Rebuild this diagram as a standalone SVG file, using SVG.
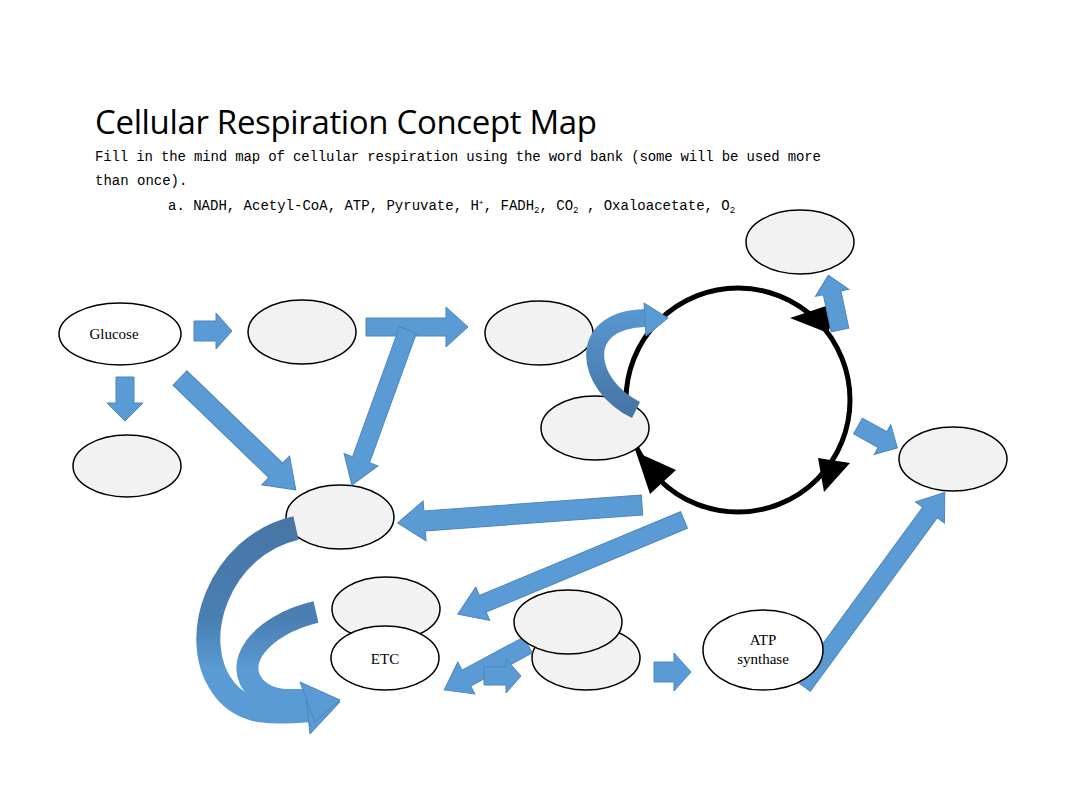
<svg xmlns="http://www.w3.org/2000/svg" width="1082" height="803" viewBox="0 0 1082 803">
<style>
.o{stroke:#000;stroke-width:1.5;fill:#f2f2f2}
.w{fill:#fff}
.a{fill:#5b9bd5;stroke:#4a86bd;stroke-width:1}
.m{font-family:"Liberation Mono","Noto Sans CJK SC",monospace;font-size:14px}
.t{font-family:"Liberation Serif",serif;font-size:15px;text-anchor:middle}
</style>
<defs>
<linearGradient id="g1" gradientUnits="userSpaceOnUse" x1="0" y1="520" x2="0" y2="720"><stop offset="0" stop-color="#4676a6"/><stop offset="0.5" stop-color="#4a7fb2"/><stop offset="0.75" stop-color="#5b9bd5"/></linearGradient>
<linearGradient id="g2" gradientUnits="userSpaceOnUse" x1="0" y1="410" x2="0" y2="300"><stop offset="0" stop-color="#4676a6"/><stop offset="1" stop-color="#5b9bd5"/></linearGradient>
</defs>
<rect width="1082" height="803" fill="#fff"/>
<text x="95" y="134" font-family="Open Sans,Liberation Sans,sans-serif" font-size="33" textLength="502">Cellular Respiration Concept Map</text>
<text class="m" x="95" y="161" textLength="726">Fill in the mind map of cellular respiration using the word bank (some will be used more</text>
<text class="m" x="95" y="185">than once).</text>
<text class="m" x="168" y="210" font-size="13">a. NADH, Acetyl-CoA, ATP, Pyruvate, H<tspan font-size="8" dy="-5">+</tspan><tspan dy="5">, FADH</tspan><tspan font-size="9" dy="3">2</tspan><tspan dy="-3">, CO</tspan><tspan font-size="9" dy="3">2</tspan><tspan dy="-3"> , Oxaloacetate, O</tspan><tspan font-size="9" dy="3">2</tspan></text>

<g id="cycle" fill="none" stroke="#000" stroke-width="5">
<circle cx="738" cy="400" r="112"/>
<polygon points="790,318 838,302 828,333" fill="#000" stroke="none"/>
<polygon points="818,458 850,463 824,492" fill="#000" stroke="none"/>
<polygon points="636,452 676,470 650,494" fill="#000" stroke="none"/>
</g>

<g id="n1"><ellipse class="o w" cx="120" cy="334" rx="61" ry="31"/><text class="t" x="114" y="339">Glucose</text></g>
<g id="n2"><ellipse class="o" cx="302" cy="332" rx="54" ry="32"/></g>
<g id="n3"><ellipse class="o" cx="539" cy="333" rx="54" ry="32"/></g>
<g id="n4"><ellipse class="o" cx="800" cy="242" rx="54" ry="32"/></g>
<g id="n5"><ellipse class="o" cx="127" cy="466" rx="54" ry="31"/></g>
<g id="n6"><ellipse class="o" cx="595" cy="428" rx="54" ry="32"/></g>
<g id="n7"><ellipse class="o" cx="953" cy="459" rx="54" ry="32"/></g>
<g id="n8"><ellipse class="o" cx="340" cy="517" rx="54" ry="32"/></g>
<g id="n9"><ellipse class="o" cx="386" cy="609" rx="54" ry="32"/></g>
<g id="n10"><ellipse class="o w" cx="385" cy="658" rx="54" ry="32"/><text class="t" x="385" y="664">ETC</text></g>
<g id="n11"><ellipse class="o" cx="586" cy="658" rx="54" ry="32"/></g>

<g id="connectors">
<g class="a">
<polygon transform="translate(194,331) rotate(0)" points="0,-10 22,-10 22,-18 38,0 22,18 22,10 0,10"/>
<polygon transform="translate(125,377) rotate(90)" points="0,-9 26,-9 26,-18 44,0 26,18 26,9 0,9"/>
<polygon transform="translate(366,327) rotate(0)" points="0,-9 80,-9 80,-20 102,0 80,20 80,9 0,9"/>
<polygon transform="translate(408,330) rotate(109.9)" points="0,-9 138,-9 138,-18 165,0 138,18 138,9 0,9"/>
<polygon transform="translate(180,378) rotate(44)" points="0,-10 133,-10 133,-20 161,0 133,20 133,10 0,10"/>
<polygon transform="translate(642,505) rotate(175.8)" points="0,-10 218,-10 218,-20 245,0 218,20 218,10 0,10"/>
<polygon transform="translate(684,520) rotate(157.4)" points="0,-9 218,-9 218,-18 245,0 218,18 218,9 0,9"/>
<polygon transform="translate(840,330) rotate(-102)" points="0,-9 38,-9 38,-17 56,0 38,17 38,9 0,9"/>
<polygon transform="translate(858,426) rotate(29)" points="0,-9 28,-9 28,-17 45,0 28,17 28,9 0,9"/>
<polygon transform="translate(528,645) rotate(151.8)" points="0,-9 70,-9 70,-18 95,0 70,18 70,9 0,9"/>
<polygon transform="translate(484,676) rotate(0)" points="0,-9 22,-9 22,-17 37,0 22,17 22,9 0,9"/>
<polygon transform="translate(654,672) rotate(0)" points="0,-10 20,-10 20,-19 37,0 20,19 20,10 0,10"/>
<polygon transform="translate(803,686) rotate(-53.8)" points="0,-9 215,-9 215,-18 240,0 215,18 215,9 0,9"/>
</g>
<path d="M296,528 C220,545 185,640 225,690 C245,715 275,713 310,710" fill="none" stroke="url(#g1)" stroke-width="24"/>
<polygon class="a" points="305,688 340,702 310,734"/>
<path d="M316,612 C260,625 230,665 258,690 C272,702 290,700 305,700" fill="none" stroke="url(#g1)" stroke-width="22"/>
<polygon class="a" points="300,682 340,700 315,722"/>
<path d="M636,410 C585,385 575,320 645,318" fill="none" stroke="url(#g2)" stroke-width="18"/>
<polygon class="a" points="644,303 668,318 646,336"/>
</g>

<g id="n12"><ellipse class="o" cx="568" cy="622" rx="54" ry="32"/></g>
<g id="n13"><ellipse class="o w" cx="763" cy="650" rx="60" ry="40"/><text class="t" x="763" y="645">ATP</text><text class="t" x="763" y="664">synthase</text></g>
</svg>
